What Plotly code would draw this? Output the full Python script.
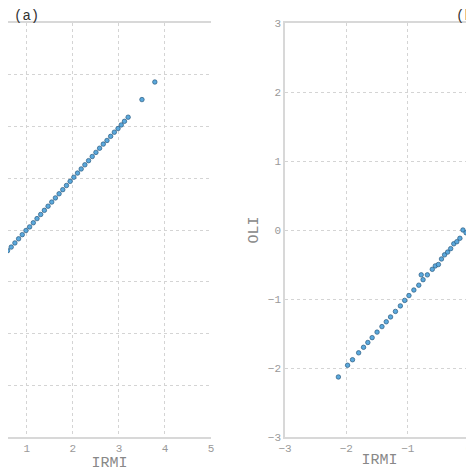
import plotly.graph_objects as go

# panel (a): IRMI vs OLI
irmi_a = [0.42, 0.5, 0.58, 0.66, 0.74, 0.82, 0.9, 0.98, 1.06, 1.14, 1.22, 1.3, 1.38, 1.46,
          1.54, 1.62, 1.7, 1.78, 1.86, 1.94, 2.02, 2.1, 2.18, 2.26, 2.34, 2.42, 2.5, 2.58,
          2.66, 2.74, 2.82, 2.9, 2.98, 3.05, 3.12, 3.2, 3.5, 3.78]
oli_a = [0.46, 0.52, 0.6, 0.67, 0.75, 0.83, 0.91, 0.99, 1.06, 1.14, 1.22, 1.3, 1.38, 1.46,
         1.54, 1.62, 1.7, 1.78, 1.86, 1.94, 2.02, 2.1, 2.18, 2.26, 2.34, 2.42, 2.5, 2.58,
         2.66, 2.73, 2.81, 2.89, 2.96, 3.03, 3.1, 3.18, 3.52, 3.86]

# panel (b)
irmi_b = [-2.13, -1.98, -1.9, -1.8, -1.72, -1.65, -1.58, -1.5, -1.42, -1.35, -1.28, -1.2,
          -1.12, -1.05, -0.98, -0.9, -0.82, -0.78, -0.75, -0.68, -0.6, -0.55, -0.5, -0.45,
          -0.4, -0.35, -0.3, -0.25, -0.2, -0.15, -0.1, -0.05, 0.0, 0.03, 0.06, 0.08]
oli_b = [-2.13, -1.96, -1.88, -1.78, -1.7, -1.63, -1.56, -1.48, -1.4, -1.33, -1.26, -1.18,
         -1.1, -1.02, -0.95, -0.87, -0.8, -0.65, -0.72, -0.65, -0.57, -0.52, -0.5, -0.42,
         -0.36, -0.32, -0.27, -0.2, -0.17, -0.12, 0.0, -0.04, 0.03, 0.08, 0.12, 0.15]

W = 466  # page has an 8px offset
mk = dict(color="#5aa8dc", size=4.5, line=dict(color="#2a5a80", width=0.7))
fig = go.Figure()
fig.add_trace(go.Scatter(x=irmi_a, y=oli_a, mode="markers", marker=mk, xaxis="x", yaxis="y"))
fig.add_trace(go.Scatter(x=irmi_b, y=oli_b, mode="markers", marker=mk, xaxis="x2", yaxis="y2"))

font = dict(family="Liberation Mono", color="#999", size=11)
tfont = dict(family="Liberation Mono", size=15, color="#888")
lfont = dict(family="Liberation Mono", size=14, color="#333")
ax = dict(showgrid=True, gridcolor="#d4d4d4", griddash="dot", gridwidth=1, zeroline=False,
          showline=True, linecolor="#d8d8d8", linewidth=1.5, mirror=True, ticks="", tickfont=font, dtick=1)
fig.update_layout(
    width=W, height=W, showlegend=False,
    plot_bgcolor="white", paper_bgcolor="white",
    margin=dict(l=0, r=0, t=15, b=37, autoexpand=False),
    xaxis=dict(ax, domain=[0, 203 / W], range=[0.59, 5],
               title=dict(text="IRMI", font=tfont, standoff=0)),
    yaxis=dict(ax, range=[-3, 5], showticklabels=False, showline=False),
    xaxis2=dict(ax, domain=[277 / W, 1], range=[-3, 0.08], anchor="y2",
                title=dict(text="IRMI", font=tfont, standoff=0)),
    yaxis2=dict(ax, range=[-3, 3], anchor="x2",
                title=dict(text="OLI", font=tfont, standoff=6)),
    annotations=[
        dict(text="(a)", x=4 / W, y=1, xref="paper", yref="paper", xanchor="left", yanchor="bottom",
             yshift=-3, showarrow=False, font=lfont),
        dict(text="(b", x=446 / W, y=1, xref="paper", yref="paper", xanchor="left", yanchor="bottom",
             yshift=-3, showarrow=False, font=lfont),
    ],
)
fig.write_html("out.html")
